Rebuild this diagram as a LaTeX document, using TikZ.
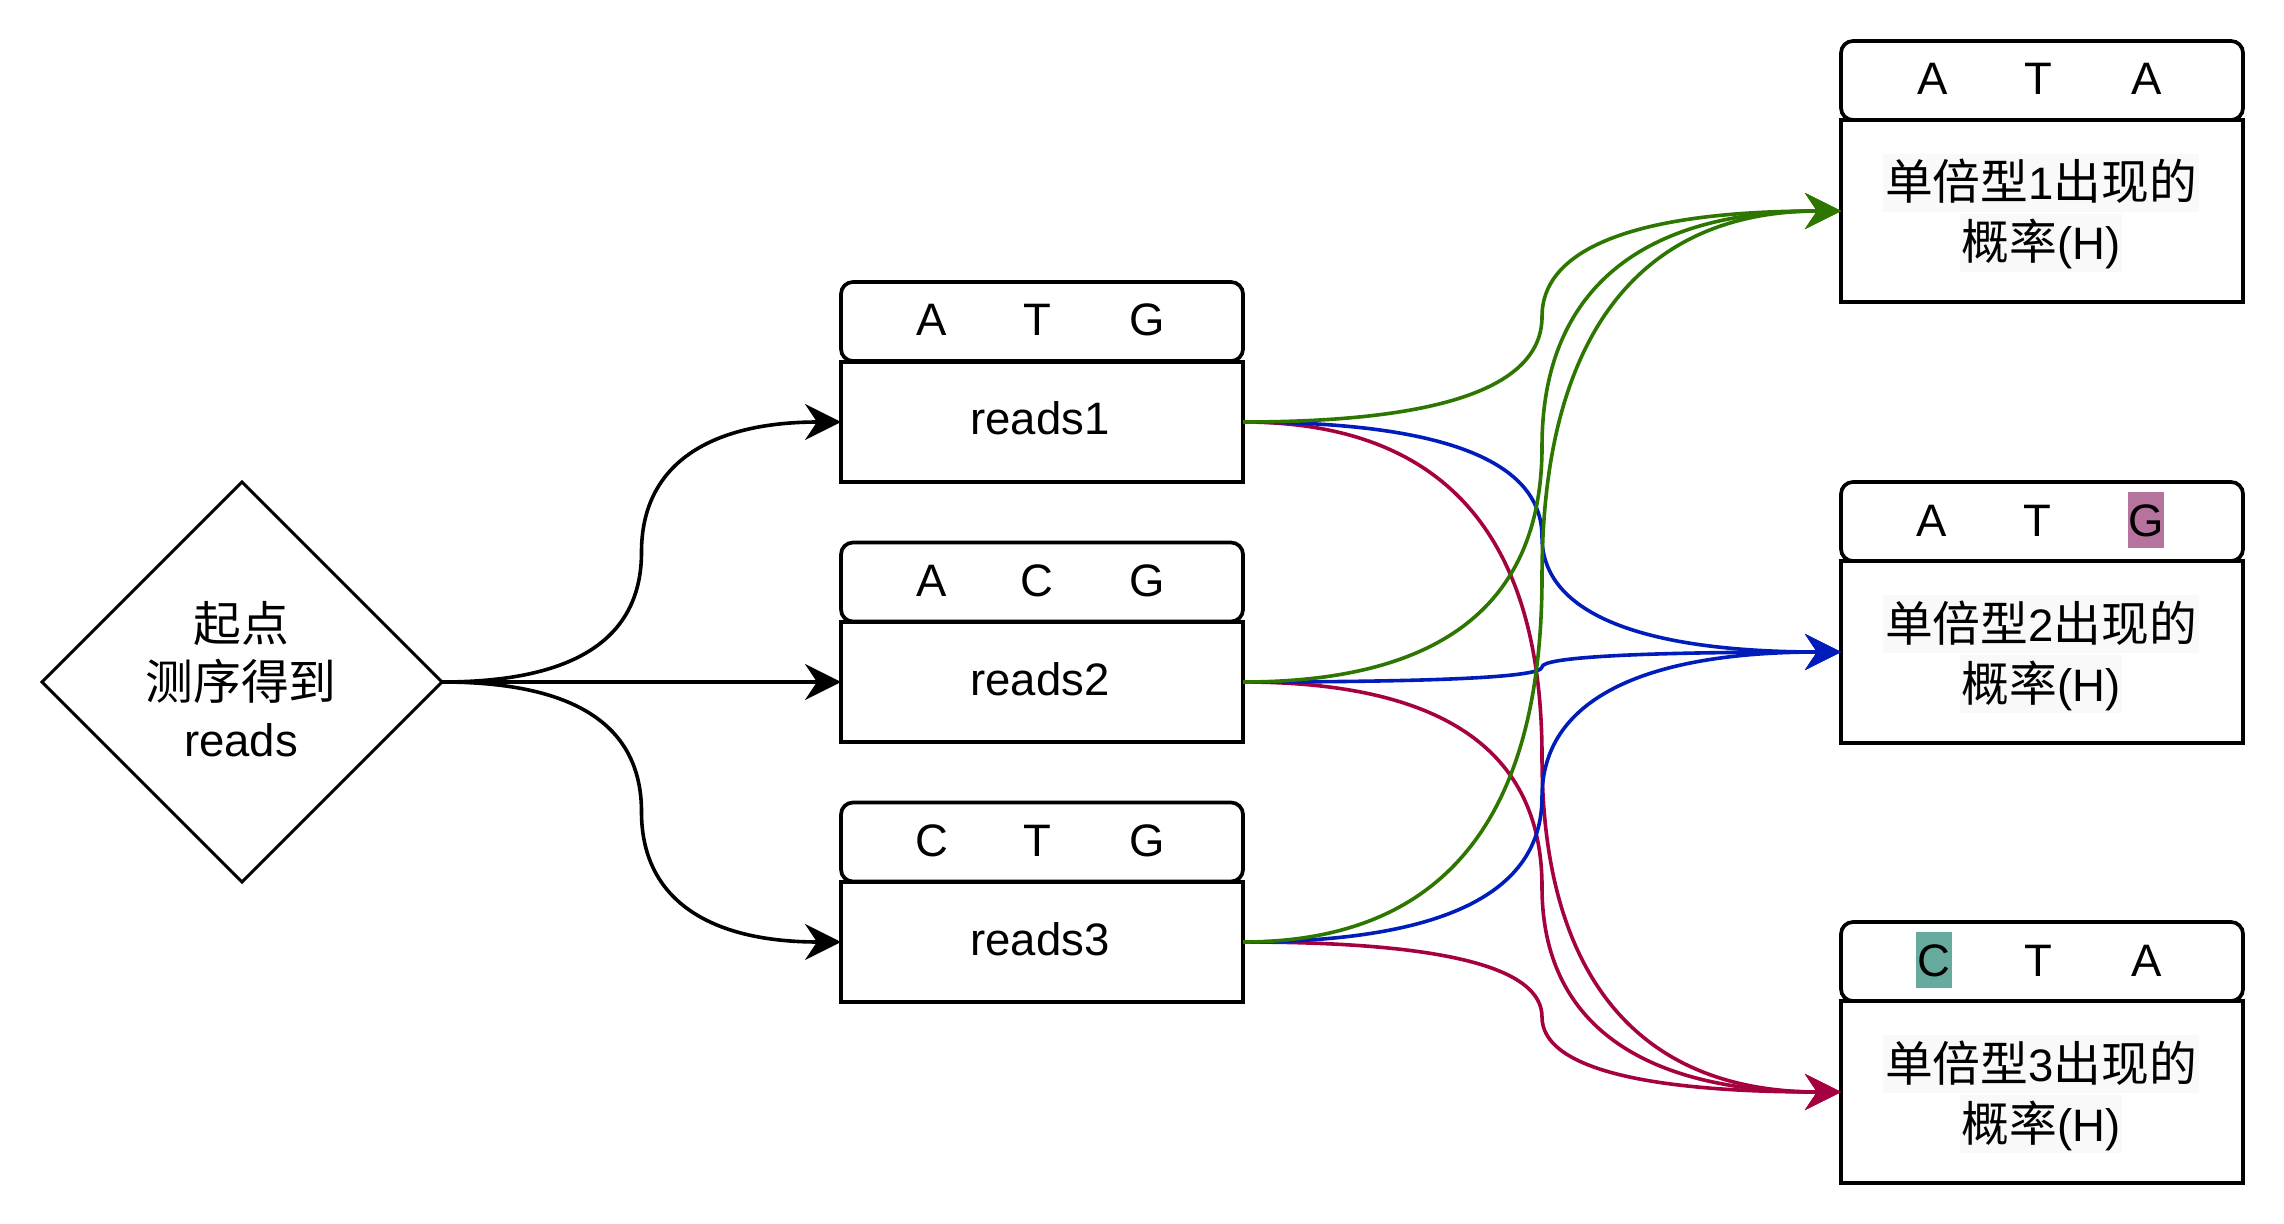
\documentclass[tikz,border=0pt]{standalone}
\usepackage{fontspec}
\setmainfont{Liberation Sans}
\newfontfamily\cjk[Scale=1.05]{Noto Sans CJK SC}
\usetikzlibrary{arrows.meta,shapes.geometric,calc}
\definecolor{egreen}{HTML}{2D7600}
\definecolor{eblue}{HTML}{001DBC}
\definecolor{ered}{HTML}{A50040}
\definecolor{hlpurple}{HTML}{B5739D}
\definecolor{hlteal}{HTML}{67AB9F}
\definecolor{lblbg}{HTML}{F9F9F9}
\tikzset{
  boxline/.style={draw=black, line width=1.85pt, inner sep=0pt, outer sep=0pt},
  bodybox/.style={boxline, minimum width=201pt},
  headbox/.style={boxline, rounded corners=6pt, minimum width=201pt, minimum height=39.5pt},
  txt/.style={inner sep=0pt, outer sep=0pt, anchor=base, font=\fontsize{22.75pt}{27pt}\selectfont},
  letter/.style={txt, text height=22pt, text depth=6pt, minimum width=18pt},
  hlline/.style={txt, fill=lblbg, inner xsep=1pt, text height=23pt, text depth=6pt},
  edgeline/.style={line width=1.8pt, -{Stealth[length=18pt, width=18pt, inset=6pt]}},
}
\newcommand\qedge[4]{%
  \path (#2.east -| #4) coordinate (qa) (#3.west -| #4) coordinate (qb);
  \path ($(qa)!.5!(qb)$) coordinate (qm);
  \draw[edgeline,#1] (#2.east) .. controls ($(#2.east)!2/3!(qa)$) and ($(qm)!2/3!(qa)$) .. (qm)
     .. controls ($(qm)!2/3!(qb)$) and ($(#3.west)!2/3!(qb)$) .. (#3.west);
}
\begin{document}
\begin{tikzpicture}[x=0.5pt, y=-0.5pt]
\path[fill=white, use as bounding box] (0,0) rectangle (2284,1224);
\coordinate (mL) at (641.5,0);
\coordinate (mR) at (1542,0);

% start diamond
\node[diamond, draw=black, line width=1.45pt, minimum width=200pt, minimum height=200pt, inner sep=0pt, outer sep=0pt] (start) at (242,682) {};
\node[txt] (st1) at (241,641) {\cjk 起点};
\node[txt] (st2) at (241,699) {\cjk 测序得到};
\node[txt] (st3) at (241,756) {reads};

% reads boxes
\node[bodybox, minimum height=60pt] (r1) at (1042,422) {};
\node[headbox] (r1h) at (1042,321.5) {};
\node[bodybox, minimum height=60pt] (r2) at (1042,682) {};
\node[headbox] (r2h) at (1042,582) {};
\node[bodybox, minimum height=60pt] (r3) at (1042,942) {};
\node[headbox] (r3h) at (1042,842) {};
\node[txt] (r1t) at (1040,435) {reads1};
\node[txt] (r2t) at (1040,695) {reads2};
\node[txt] (r3t) at (1040,955) {reads3};
\node[letter] (r1a) at (932,336) {A};
\node[letter] (r1b) at (1037,336) {T};
\node[letter] (r1c) at (1147,336) {G};
\node[letter] (r2a) at (932,596) {A};
\node[letter] (r2b) at (1037,596) {C};
\node[letter] (r2c) at (1147,596) {G};
\node[letter] (r3a) at (932,856) {C};
\node[letter] (r3b) at (1037,856) {T};
\node[letter] (r3c) at (1147,856) {G};

% haplotype boxes
\node[bodybox, minimum height=91pt] (h1) at (2042,211) {};
\node[headbox] (h1h) at (2042,80.5) {};
\node[bodybox, minimum height=91pt] (h2) at (2042,652) {};
\node[headbox] (h2h) at (2042,521.5) {};
\node[bodybox, minimum height=91pt] (h3) at (2042,1092) {};
\node[headbox] (h3h) at (2042,961.5) {};
\node[letter] (h1a) at (1933,95) {A};
\node[letter] (h1b) at (2038,95) {T};
\node[letter] (h1c) at (2147,95) {A};
\node[letter] (h2a) at (1932,536) {A};
\node[letter] (h2b) at (2037,536) {T};
\node[letter, fill=hlpurple] (h2c) at (2146,536) {G};
\node[letter, fill=hlteal] (h3a) at (1934,976) {C};
\node[letter] (h3b) at (2038,976) {T};
\node[letter] (h3c) at (2147,976) {A};
\node[hlline] (h1l1) at (2041,200) {{\cjk 单倍型}1{\cjk 出现的}};
\node[hlline] (h1l2) at (2041,260) {{\cjk 概率}(H)};
\node[hlline] (h2l1) at (2041,641) {{\cjk 单倍型}2{\cjk 出现的}};
\node[hlline] (h2l2) at (2041,701) {{\cjk 概率}(H)};
\node[hlline] (h3l1) at (2041,1081) {{\cjk 单倍型}3{\cjk 出现的}};
\node[hlline] (h3l2) at (2041,1141) {{\cjk 概率}(H)};

% black connectors
\qedge{black}{start}{r1}{mL}
\qedge{black}{start}{r2}{mL}
\qedge{black}{start}{r3}{mL}

% coloured connectors
\qedge{ered}{r1}{h3}{mR}
\qedge{ered}{r2}{h3}{mR}
\qedge{ered}{r3}{h3}{mR}
\qedge{eblue}{r1}{h2}{mR}
\qedge{eblue}{r2}{h2}{mR}
\qedge{eblue}{r3}{h2}{mR}
\qedge{egreen}{r1}{h1}{mR}
\qedge{egreen}{r2}{h1}{mR}
\qedge{egreen}{r3}{h1}{mR}
\end{tikzpicture}
\end{document}
